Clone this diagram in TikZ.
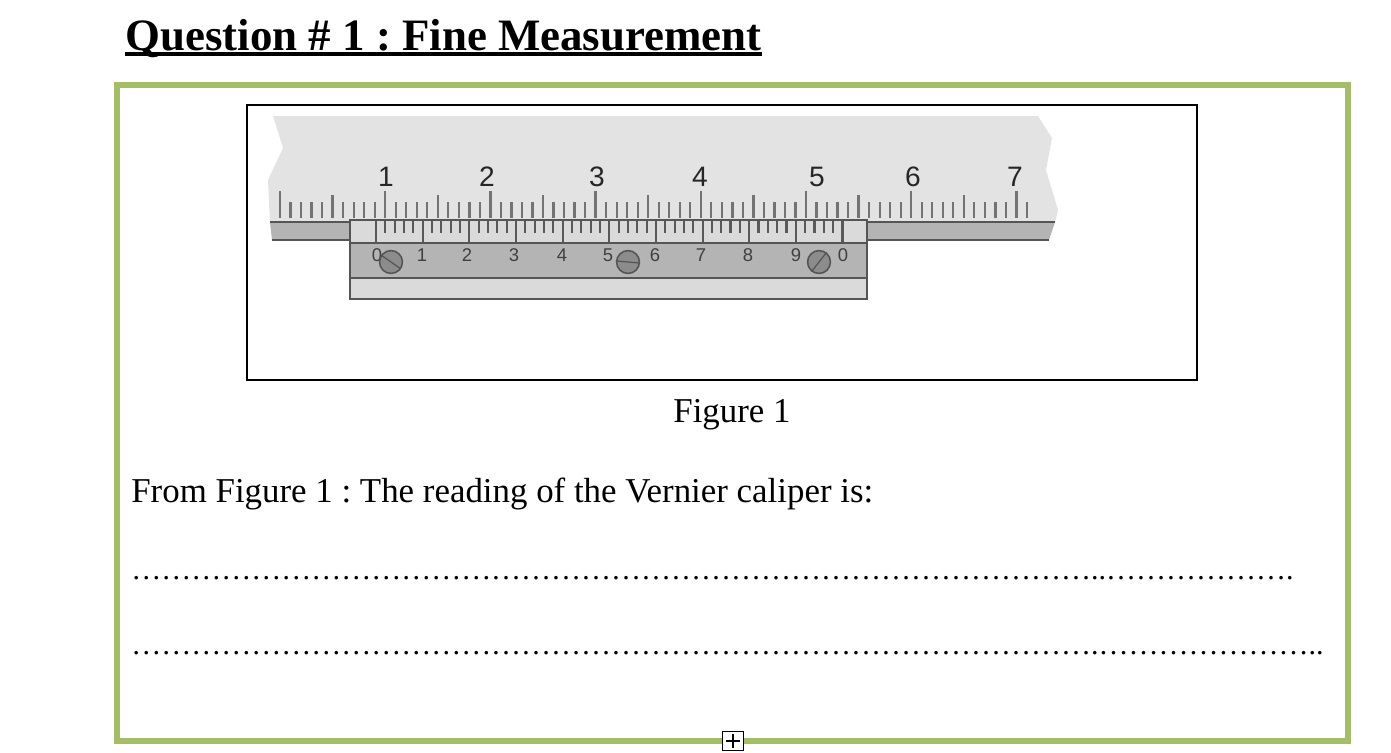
\documentclass[tikz,border=0pt]{standalone}
\usepackage{fontspec}
\setmainfont{Liberation Serif}
\setsansfont{Liberation Sans}
\usepackage{tikz}
\frenchspacing
\definecolor{framegreen}{HTML}{A3BD68}
\definecolor{bodygray}{HTML}{E3E3E3}
\definecolor{bargray}{HTML}{B4B4B4}
\definecolor{slidegray}{HTML}{DADADA}
\definecolor{darkgray}{HTML}{555555}
\tikzset{
    bodytext/.style={inner sep=0pt,font=\fontsize{19.85}{24}\selectfont},
    dotstext/.style={inner sep=0pt,anchor=base west,font=\fontsize{17.07}{20}\selectfont},
    titletext/.style={inner sep=0pt,font=\fontsize{25.55}{30}\selectfont\bfseries},
    mainnum/.style={inner sep=0pt,text=black!85,font=\sffamily\fontsize{16}{18}\selectfont},
    vernum/.style={inner sep=0pt,text=black!75,font=\sffamily\fontsize{10.5}{12}\selectfont},
    screw/.style={circle,draw=darkgray,fill=black!45,line width=0.9pt,minimum size=13pt,inner sep=0pt},
    slot/.style={draw=darkgray,line width=0.7pt}
}
\begin{document}
\begin{tikzpicture}[x=0.02cm,y=-0.02cm]
    \useasboundingbox (0,0) rectangle (1391,752);
    \node[titletext,anchor=base west] (title) at (125,50) {Question \# 1 : Fine Measurement};
    \draw[black,line width=2.2pt] ([yshift=-2.3pt]title.base west) -- ([yshift=-2.3pt]title.base east);
    \node[draw=framegreen,line width=3.4pt,minimum width=24.62cm,minimum height=13.12cm,inner sep=0pt] (frame) at (732.5,413) {};
    \node[draw=black,line width=0.8pt,minimum width=19cm,minimum height=5.5cm,inner sep=0pt] (photo) at (722,242.5) {};

    \fill[bodygray] (273,116) -- (1038,116) -- (1052,138) -- (1046,170) -- (1058,210) -- (1055,223) -- (270,223) -- (268,180) -- (283,148) -- cycle;
    \foreach \i in {0,...,71} {
        \pgfmathsetmacro{\ticktop}{mod(\i,10)==0 ? 191 : (mod(\i,5)==0 ? 195 : 202)}
        \draw[black!55,line width=1.3pt] (280+10.52*\i,\ticktop) -- (280+10.52*\i,218);
    }
    \fill[bargray] (270,222) -- (1055,222) -- (1049,240) -- (272,240) -- cycle;
    \draw[darkgray,line width=1.3pt] (270,222) -- (1055,222);
    \draw[darkgray,line width=0.9pt] (272,240) -- (1049,240);

    \node[mainnum] (m1) at (386,177) {1};
    \node[mainnum] (m2) at (487,177) {2};
    \node[mainnum] (m3) at (597,177) {3};
    \node[mainnum] (m4) at (700,177) {4};
    \node[mainnum] (m5) at (817,177) {5};
    \node[mainnum] (m6) at (913,177) {6};
    \node[mainnum] (m7) at (1015,177) {7};

    \fill[slidegray] (350,220) rectangle (867,243);
    \fill[bargray] (350,243) rectangle (867,278);
    \fill[slidegray] (350,278) rectangle (867,299);
    \foreach \i in {0,...,50} {
        \pgfmathsetmacro{\tickend}{mod(\i,5)==0 ? 243 : 233}
        \draw[black!65,line width=1.2pt] (376+9.33*\i,220) -- (376+9.33*\i,\tickend);
    }
    \draw[darkgray,line width=1pt] (350,220) rectangle (867,299);
    \draw[darkgray,line width=1pt] (350,243) -- (867,243);
    \draw[darkgray,line width=1pt] (350,278) -- (867,278);

    \foreach \x/\n [count=\k] in {377/0,422/1,467/2,514/3,562/4,608/5,655/6,701/7,748/8,796/9,843/0} {
        \node[vernum] (v\k) at (\x,255) {\n};
    }

    \node[screw] (s1) at (391,262) {};
    \node[screw] (s2) at (628,262) {};
    \node[screw] (s3) at (819,262) {};
    \draw[slot] (s1.145) -- (s1.325);
    \draw[slot] (s2.175) -- (s2.355);
    \draw[slot] (s3.52) -- (s3.232);

    \node[bodytext,anchor=base] (caption) at (732,422) {Figure 1};
    \node[bodytext,anchor=base west] (question) at (131,502) {From Figure 1 : The reading of the Vernier caliper is:};
    \node[dotstext] (dots1) at (131,579) {……………………………………………………………………………………..……………….};
    \node[dotstext] (dots2) at (131,654) {…………………………………………………………………………………….…………………..};

    \node[draw=black,fill=white,line width=1.1pt,minimum width=0.42cm,minimum height=0.38cm,inner sep=0pt] (handle) at (733,741) {};
    \draw[black,line width=0.8pt] (handle.center) ++(-7,0) -- ++(14,0);
    \draw[black,line width=0.8pt] (handle.center) ++(0,-7) -- ++(0,14);
\end{tikzpicture}
\end{document}
